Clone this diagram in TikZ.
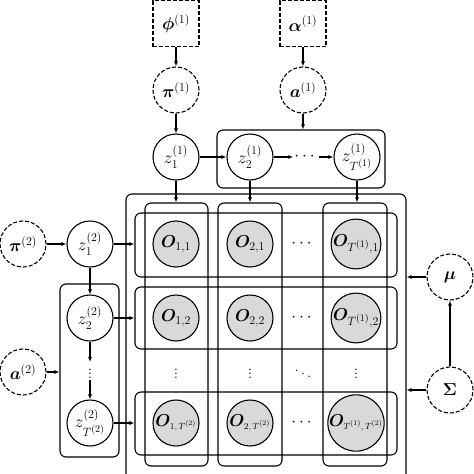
\documentclass[tikz,border=0pt]{standalone}
\usepackage{amsmath,bm}
\usetikzlibrary{arrows.meta}
\newcommand{\smsub}[1]{\mbox{\fontsize{9.5}{10}\selectfont$#1$}}
\begin{document}
\begin{tikzpicture}[x=1pt,y=-1pt,
  every node/.style={font=\LARGE},
  lat/.style={circle,draw,line width=1.1pt,minimum size=46pt,inner sep=0pt},
  obs/.style={lat,fill=gray!30},
  hyp/.style={lat,dash pattern=on 4pt off 2pt},
  hbox/.style={rectangle,draw,line width=1.1pt,dash pattern=on 4pt off 2pt,minimum size=46pt,inner sep=0pt},
  plate/.style={draw,line width=1.1pt,rounded corners=6pt,rectangle,inner sep=0pt},
  dotsn/.style={inner sep=1pt},
  arr/.style={-{Latex[length=5pt,width=4pt]},line width=1.1pt},
]
\useasboundingbox (0,0) rectangle (474,474);
% plates
\node[plate,minimum width=280pt,minimum height=286pt] (outer) at (266,337) {};
\node[plate,minimum width=63pt,minimum height=263pt] (col1) at (176.5,334.5) {};
\node[plate,minimum width=64pt,minimum height=263pt] (col2) at (250,334.5) {};
\node[plate,minimum width=64pt,minimum height=263pt] (col3) at (355,334.5) {};
\node[plate,minimum width=262pt,minimum height=64pt] (row1) at (266,245) {};
\node[plate,minimum width=262pt,minimum height=62pt] (row2) at (266,318) {};
\node[plate,minimum width=262pt,minimum height=63pt] (row3) at (266,423.5) {};
\node[plate,minimum width=59pt,minimum height=173pt] (lplate) at (89.5,370.5) {};
\node[plate,minimum width=168pt,minimum height=58pt] (tplate) at (301,159) {};
% top
\node[hbox] (phi) at (176,23.5) {$\bm{\phi}^{(1)}$};
\node[hbox] (alpha) at (303,23.5) {$\bm{\alpha}^{(1)}$};
\node[hyp] (pi1) at (176,90) {$\bm{\pi}^{(1)}$};
\node[hyp] (a1) at (303,90) {$\bm{a}^{(1)}$};
\node[lat] (z11) at (176,157) {$z_1^{(1)}$};
\node[lat] (z21) at (250,157) {$z_2^{(1)}$};
\node[dotsn] (hd) at (306,157) {$\cdots$};
\node[lat] (zT1) at (357,157) {$z_{T^{(1)}}^{(1)}$};
% left
\node[hyp] (pi2) at (23,244) {$\bm{\pi}^{(2)}$};
\node[hyp] (a2) at (23,372) {$\bm{a}^{(2)}$};
\node[lat] (z12) at (90,244) {$z_1^{(2)}$};
\node[lat] (z22) at (90,318) {$z_2^{(2)}$};
\node[dotsn] (vd) at (90,371) {$\vdots$};
\node[lat] (zT2) at (90,423) {$z_{T^{(2)}}^{(2)}$};
% observations
\node[obs] (o11) at (176,244) {$\bm{O}_{1,1}$};
\node[obs] (o21) at (250,244) {$\bm{O}_{2,1}$};
\node[obs] (oT1) at (356,244) {$\bm{O}_{T^{(1)},1}$};
\node[obs] (o12) at (176,318) {$\bm{O}_{1,2}$};
\node[obs] (o22) at (250,318) {$\bm{O}_{2,2}$};
\node[obs] (oT2) at (356,318) {$\bm{O}_{T^{(1)},2}$};
\node[obs] (o1T) at (176,423) {$\bm{O}_{\smsub{1,T^{(2)}}}$};
\node[obs] (o2T) at (250,423) {$\bm{O}_{\smsub{2,T^{(2)}}}$};
\node[obs] (oTT) at (356,423) {$\bm{O}_{\smsub{T^{(1)},T^{(2)}}}$};
\node (c1) at (303,244) {$\cdots$};
\node (c2) at (303,318) {$\cdots$};
\node (c3) at (303,423) {$\cdots$};
\node (v1) at (176,371) {$\vdots$};
\node (v2) at (250,371) {$\vdots$};
\node (v3) at (356,371) {$\vdots$};
\node (dd) at (303,371) {$\ddots$};
% right
\node[hyp] (mu) at (450,277) {$\bm{\mu}$};
\node[hyp] (sig) at (450,390) {$\bm{\Sigma}$};
% arrows
\draw[arr] (phi) -- (pi1);
\draw[arr] (pi1) -- (z11);
\draw[arr] (alpha) -- (a1);
\draw[arr] (a1) -- (a1 |- tplate.north);
\draw[arr] (z11) -- (z21);
\draw[arr] (z21) -- (hd);
\draw[arr] (hd) -- (zT1);
\draw[arr] (z11) -- (z11 |- col1.north);
\draw[arr] (z21) -- (z21 |- col2.north);
\draw[arr] (zT1) -- (zT1 |- col3.north);
\draw[arr] (pi2) -- (z12);
\draw[arr] (z12) -- (z12 -| row1.west);
\draw[arr] (z12) -- (z22);
\draw[arr] (z22) -- (z22 -| row2.west);
\draw[arr] (z22) -- (vd);
\draw[arr] (vd) -- (zT2);
\draw[arr] (zT2) -- (zT2 -| row3.west);
\draw[arr] (a2) -- (a2 -| lplate.west);
\draw[arr] (mu) -- (mu -| outer.east);
\draw[arr] (sig) -- (sig -| outer.east);
\draw[arr] (sig) -- (mu);
\end{tikzpicture}
\end{document}
